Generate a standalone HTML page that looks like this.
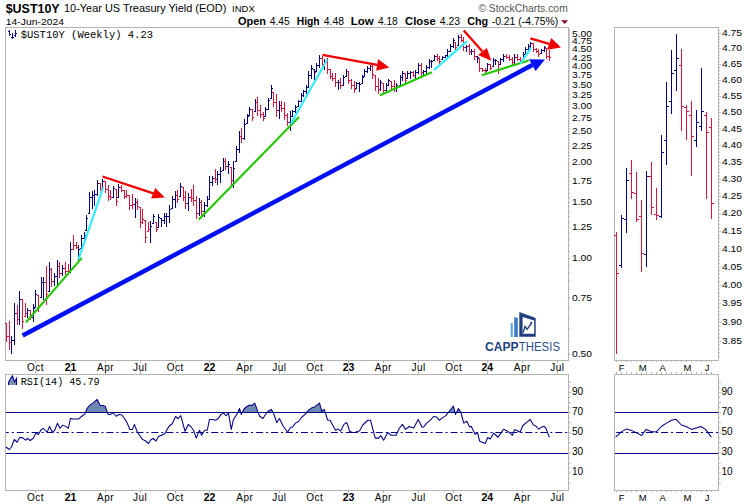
<!DOCTYPE html>
<html><head><meta charset="utf-8"><style>
html,body{margin:0;padding:0;background:#fff;}
body{width:744px;height:504px;overflow:hidden;}
svg{display:block;}
</style></head><body>
<svg width="744" height="504" viewBox="0 0 744 504">
<rect width="744" height="504" fill="#fff"/>
<text x="5.7" y="12.5" font-family='"Liberation Sans", sans-serif' font-size="13" font-weight="bold" fill="#000" text-anchor="start" textLength="54" lengthAdjust="spacingAndGlyphs" >$UST10Y</text>
<text x="64" y="11.8" font-family='"Liberation Sans", sans-serif' font-size="11" font-weight="normal" fill="#000" text-anchor="start" textLength="162.3" lengthAdjust="spacingAndGlyphs" >10-Year US Treasury Yield (EOD)</text>
<text x="232" y="11.8" font-family='"Liberation Sans", sans-serif' font-size="9" font-weight="normal" fill="#000" text-anchor="start" textLength="22.8" lengthAdjust="spacingAndGlyphs" >INDX</text>
<text x="478.5" y="11.8" font-family='"Liberation Sans", sans-serif' font-size="10" font-weight="normal" fill="#555" text-anchor="start" textLength="7.6" lengthAdjust="spacingAndGlyphs" >©</text>
<text x="488.8" y="11.8" font-family='"Liberation Sans", sans-serif' font-size="10.5" font-weight="normal" fill="#555" text-anchor="start" textLength="79" lengthAdjust="spacingAndGlyphs" >StockCharts.com</text>
<text x="5.8" y="24.5" font-family='"Liberation Sans", sans-serif' font-size="9.6" font-weight="normal" fill="#000" text-anchor="start" textLength="58.3" lengthAdjust="spacingAndGlyphs" >14-Jun-2024</text>
<text x="238" y="24.5" font-family='"Liberation Sans", sans-serif' font-size="11" font-weight="bold" fill="#000" text-anchor="start" textLength="28" lengthAdjust="spacingAndGlyphs" >Open</text>
<text x="269.8" y="24.9" font-family='"Liberation Sans", sans-serif' font-size="10" font-weight="normal" fill="#000" text-anchor="start" textLength="19.9" lengthAdjust="spacingAndGlyphs" >4.45</text>
<text x="296.7" y="24.5" font-family='"Liberation Sans", sans-serif' font-size="11" font-weight="bold" fill="#000" text-anchor="start" textLength="22.9" lengthAdjust="spacingAndGlyphs" >High</text>
<text x="323.7" y="24.9" font-family='"Liberation Sans", sans-serif' font-size="10" font-weight="normal" fill="#000" text-anchor="start" textLength="20.3" lengthAdjust="spacingAndGlyphs" >4.48</text>
<text x="350.7" y="24.5" font-family='"Liberation Sans", sans-serif' font-size="11" font-weight="bold" fill="#000" text-anchor="start" textLength="22.9" lengthAdjust="spacingAndGlyphs" >Low</text>
<text x="378" y="24.9" font-family='"Liberation Sans", sans-serif' font-size="10" font-weight="normal" fill="#000" text-anchor="start" textLength="19.7" lengthAdjust="spacingAndGlyphs" >4.18</text>
<text x="405" y="24.5" font-family='"Liberation Sans", sans-serif' font-size="11" font-weight="bold" fill="#000" text-anchor="start" textLength="30.7" lengthAdjust="spacingAndGlyphs" >Close</text>
<text x="439.8" y="24.9" font-family='"Liberation Sans", sans-serif' font-size="10" font-weight="normal" fill="#000" text-anchor="start" textLength="20.2" lengthAdjust="spacingAndGlyphs" >4.23</text>
<text x="467.2" y="24.5" font-family='"Liberation Sans", sans-serif' font-size="11" font-weight="bold" fill="#000" text-anchor="start" textLength="21.0" lengthAdjust="spacingAndGlyphs" >Chg</text>
<text x="491.7" y="24.9" font-family='"Liberation Sans", sans-serif' font-size="10" font-weight="normal" fill="#000" text-anchor="start" textLength="66.5" lengthAdjust="spacingAndGlyphs" >-0.21 (-4.75%)</text>
<path d="M561.2,20.2 L568.1,20.2 L564.65,24 Z" fill="#8b0a2a"/>
<rect x="5.5" y="27.5" width="563" height="333" fill="none" stroke="#b4b4b4" stroke-width="1"/>
<rect x="614.5" y="27.5" width="104" height="333" fill="none" stroke="#b4b4b4" stroke-width="1"/>
<rect x="5.5" y="374.5" width="563" height="116" fill="none" stroke="#b4b4b4" stroke-width="1"/>
<rect x="614.5" y="374.5" width="104" height="116" fill="none" stroke="#b4b4b4" stroke-width="1"/>
<path d="M568,354.3h2 M568,341.1h2 M568,329.1h2 M568,318.0h2 M568,307.7h2 M568,298.2h2 M568,289.3h2 M568,280.9h2 M568,273.0h2 M568,265.5h2 M568,258.4h2 M568,251.6h2 M568,245.2h2 M568,239.1h2 M568,233.2h2 M568,227.5h2 M568,222.1h2 M568,216.9h2 M568,211.8h2 M568,207.0h2 M568,202.3h2 M568,197.8h2 M568,193.4h2 M568,189.1h2 M568,185.0h2 M568,181.0h2 M568,177.1h2 M568,173.3h2 M568,169.6h2 M568,166.0h2 M568,162.5h2 M568,159.1h2 M568,155.8h2 M568,152.5h2 M568,149.3h2 M568,146.2h2 M568,143.2h2 M568,140.2h2 M568,137.3h2 M568,134.4h2 M568,131.6h2 M568,128.9h2 M568,126.2h2 M568,123.6h2 M568,121.0h2 M568,118.4h2 M568,116.0h2 M568,113.5h2 M568,111.1h2 M568,108.7h2 M568,106.4h2 M568,104.1h2 M568,101.9h2 M568,99.7h2 M568,97.5h2 M568,95.3h2 M568,93.2h2 M568,91.1h2 M568,89.1h2 M568,87.1h2 M568,85.1h2 M568,83.1h2 M568,81.2h2 M568,79.3h2 M568,77.4h2 M568,75.5h2 M568,73.7h2 M568,71.9h2 M568,70.1h2 M568,68.3h2 M568,66.6h2 M568,64.9h2 M568,63.2h2 M568,61.5h2 M568,59.9h2 M568,58.2h2 M568,56.6h2 M568,55.0h2 M568,53.4h2 M568,51.9h2 M568,50.3h2 M568,48.8h2 M568,47.3h2 M568,45.8h2 M568,44.3h2 M568,42.8h2 M568,41.4h2 M568,39.9h2 M568,38.5h2 M568,37.1h2 M568,35.7h2 M568,34.4h2 M568,33.0h2 M568,31.6h2 M568,30.3h2 M568,29.0h2" stroke="#b4b4b4" stroke-width="1" fill="none"/>
<text x="572" y="356.8" font-family='"Liberation Sans", sans-serif' font-size="9.8" font-weight="normal" fill="#000" text-anchor="start" textLength="20" lengthAdjust="spacingAndGlyphs" >0.50</text>
<text x="572" y="300.7" font-family='"Liberation Sans", sans-serif' font-size="9.8" font-weight="normal" fill="#000" text-anchor="start" textLength="20" lengthAdjust="spacingAndGlyphs" >0.75</text>
<text x="572" y="260.9" font-family='"Liberation Sans", sans-serif' font-size="9.8" font-weight="normal" fill="#000" text-anchor="start" textLength="20" lengthAdjust="spacingAndGlyphs" >1.00</text>
<text x="572" y="230.0" font-family='"Liberation Sans", sans-serif' font-size="9.8" font-weight="normal" fill="#000" text-anchor="start" textLength="20" lengthAdjust="spacingAndGlyphs" >1.25</text>
<text x="572" y="204.8" font-family='"Liberation Sans", sans-serif' font-size="9.8" font-weight="normal" fill="#000" text-anchor="start" textLength="20" lengthAdjust="spacingAndGlyphs" >1.50</text>
<text x="572" y="183.5" font-family='"Liberation Sans", sans-serif' font-size="9.8" font-weight="normal" fill="#000" text-anchor="start" textLength="20" lengthAdjust="spacingAndGlyphs" >1.75</text>
<text x="572" y="165.0" font-family='"Liberation Sans", sans-serif' font-size="9.8" font-weight="normal" fill="#000" text-anchor="start" textLength="20" lengthAdjust="spacingAndGlyphs" >2.00</text>
<text x="572" y="148.7" font-family='"Liberation Sans", sans-serif' font-size="9.8" font-weight="normal" fill="#000" text-anchor="start" textLength="20" lengthAdjust="spacingAndGlyphs" >2.25</text>
<text x="572" y="134.1" font-family='"Liberation Sans", sans-serif' font-size="9.8" font-weight="normal" fill="#000" text-anchor="start" textLength="20" lengthAdjust="spacingAndGlyphs" >2.50</text>
<text x="572" y="120.9" font-family='"Liberation Sans", sans-serif' font-size="9.8" font-weight="normal" fill="#000" text-anchor="start" textLength="20" lengthAdjust="spacingAndGlyphs" >2.75</text>
<text x="572" y="108.9" font-family='"Liberation Sans", sans-serif' font-size="9.8" font-weight="normal" fill="#000" text-anchor="start" textLength="20" lengthAdjust="spacingAndGlyphs" >3.00</text>
<text x="572" y="97.8" font-family='"Liberation Sans", sans-serif' font-size="9.8" font-weight="normal" fill="#000" text-anchor="start" textLength="20" lengthAdjust="spacingAndGlyphs" >3.25</text>
<text x="572" y="87.6" font-family='"Liberation Sans", sans-serif' font-size="9.8" font-weight="normal" fill="#000" text-anchor="start" textLength="20" lengthAdjust="spacingAndGlyphs" >3.50</text>
<text x="572" y="78.0" font-family='"Liberation Sans", sans-serif' font-size="9.8" font-weight="normal" fill="#000" text-anchor="start" textLength="20" lengthAdjust="spacingAndGlyphs" >3.75</text>
<text x="572" y="69.1" font-family='"Liberation Sans", sans-serif' font-size="9.8" font-weight="normal" fill="#000" text-anchor="start" textLength="20" lengthAdjust="spacingAndGlyphs" >4.00</text>
<text x="572" y="60.7" font-family='"Liberation Sans", sans-serif' font-size="9.8" font-weight="normal" fill="#000" text-anchor="start" textLength="20" lengthAdjust="spacingAndGlyphs" >4.25</text>
<text x="572" y="52.3" font-family='"Liberation Sans", sans-serif' font-size="9.8" font-weight="normal" fill="#000" text-anchor="start" textLength="20" lengthAdjust="spacingAndGlyphs" >4.50</text>
<text x="572" y="44.3" font-family='"Liberation Sans", sans-serif' font-size="9.8" font-weight="normal" fill="#000" text-anchor="start" textLength="20" lengthAdjust="spacingAndGlyphs" >4.75</text>
<text x="572" y="37.2" font-family='"Liberation Sans", sans-serif' font-size="9.8" font-weight="normal" fill="#000" text-anchor="start" textLength="20" lengthAdjust="spacingAndGlyphs" >5.00</text>
<path d="M718,356.6h2 M718,352.8h2 M718,349.0h2 M718,345.1h2 M718,341.3h3 M718,337.5h2 M718,333.7h2 M718,329.9h2 M718,326.2h2 M718,322.4h3 M718,318.7h2 M718,314.9h2 M718,311.2h2 M718,307.5h2 M718,303.7h3 M718,300.0h2 M718,296.3h2 M718,292.6h2 M718,289.0h2 M718,285.3h3 M718,281.6h2 M718,278.0h2 M718,274.3h2 M718,270.7h2 M718,267.1h3 M718,263.5h2 M718,259.9h2 M718,256.3h2 M718,252.7h2 M718,249.1h3 M718,245.5h2 M718,242.0h2 M718,238.4h2 M718,234.9h2 M718,231.3h3 M718,227.8h2 M718,224.3h2 M718,220.8h2 M718,217.3h2 M718,213.8h3 M718,210.3h2 M718,206.8h2 M718,203.3h2 M718,199.9h2 M718,196.4h3 M718,193.0h2 M718,189.6h2 M718,186.1h2 M718,182.7h2 M718,179.3h3 M718,175.9h2 M718,172.5h2 M718,169.1h2 M718,165.7h2 M718,162.3h3 M718,159.0h2 M718,155.6h2 M718,152.3h2 M718,148.9h2 M718,145.6h3 M718,142.3h2 M718,138.9h2 M718,135.6h2 M718,132.3h2 M718,129.0h3 M718,125.7h2 M718,122.5h2 M718,119.2h2 M718,115.9h2 M718,112.7h3 M718,109.4h2 M718,106.2h2 M718,102.9h2 M718,99.7h2 M718,96.5h3 M718,93.2h2 M718,90.0h2 M718,86.8h2 M718,83.6h2 M718,80.4h3 M718,77.3h2 M718,74.1h2 M718,70.9h2 M718,67.7h2 M718,64.6h3 M718,61.4h2 M718,58.3h2 M718,55.2h2 M718,52.0h2 M718,48.9h3 M718,45.8h2 M718,42.7h2 M718,39.6h2 M718,36.5h2 M718,33.4h3 M718,30.3h2" stroke="#b4b4b4" stroke-width="1" fill="none"/>
<text x="722" y="343.8" font-family='"Liberation Sans", sans-serif' font-size="9.8" font-weight="normal" fill="#000" text-anchor="start" textLength="20" lengthAdjust="spacingAndGlyphs" >3.85</text>
<text x="722" y="324.9" font-family='"Liberation Sans", sans-serif' font-size="9.8" font-weight="normal" fill="#000" text-anchor="start" textLength="20" lengthAdjust="spacingAndGlyphs" >3.90</text>
<text x="722" y="306.2" font-family='"Liberation Sans", sans-serif' font-size="9.8" font-weight="normal" fill="#000" text-anchor="start" textLength="20" lengthAdjust="spacingAndGlyphs" >3.95</text>
<text x="722" y="287.8" font-family='"Liberation Sans", sans-serif' font-size="9.8" font-weight="normal" fill="#000" text-anchor="start" textLength="20" lengthAdjust="spacingAndGlyphs" >4.00</text>
<text x="722" y="269.6" font-family='"Liberation Sans", sans-serif' font-size="9.8" font-weight="normal" fill="#000" text-anchor="start" textLength="20" lengthAdjust="spacingAndGlyphs" >4.05</text>
<text x="722" y="251.6" font-family='"Liberation Sans", sans-serif' font-size="9.8" font-weight="normal" fill="#000" text-anchor="start" textLength="20" lengthAdjust="spacingAndGlyphs" >4.10</text>
<text x="722" y="233.8" font-family='"Liberation Sans", sans-serif' font-size="9.8" font-weight="normal" fill="#000" text-anchor="start" textLength="20" lengthAdjust="spacingAndGlyphs" >4.15</text>
<text x="722" y="216.3" font-family='"Liberation Sans", sans-serif' font-size="9.8" font-weight="normal" fill="#000" text-anchor="start" textLength="20" lengthAdjust="spacingAndGlyphs" >4.20</text>
<text x="722" y="198.9" font-family='"Liberation Sans", sans-serif' font-size="9.8" font-weight="normal" fill="#000" text-anchor="start" textLength="20" lengthAdjust="spacingAndGlyphs" >4.25</text>
<text x="722" y="181.8" font-family='"Liberation Sans", sans-serif' font-size="9.8" font-weight="normal" fill="#000" text-anchor="start" textLength="20" lengthAdjust="spacingAndGlyphs" >4.30</text>
<text x="722" y="164.8" font-family='"Liberation Sans", sans-serif' font-size="9.8" font-weight="normal" fill="#000" text-anchor="start" textLength="20" lengthAdjust="spacingAndGlyphs" >4.35</text>
<text x="722" y="148.1" font-family='"Liberation Sans", sans-serif' font-size="9.8" font-weight="normal" fill="#000" text-anchor="start" textLength="20" lengthAdjust="spacingAndGlyphs" >4.40</text>
<text x="722" y="131.5" font-family='"Liberation Sans", sans-serif' font-size="9.8" font-weight="normal" fill="#000" text-anchor="start" textLength="20" lengthAdjust="spacingAndGlyphs" >4.45</text>
<text x="722" y="115.2" font-family='"Liberation Sans", sans-serif' font-size="9.8" font-weight="normal" fill="#000" text-anchor="start" textLength="20" lengthAdjust="spacingAndGlyphs" >4.50</text>
<text x="722" y="99.0" font-family='"Liberation Sans", sans-serif' font-size="9.8" font-weight="normal" fill="#000" text-anchor="start" textLength="20" lengthAdjust="spacingAndGlyphs" >4.55</text>
<text x="722" y="82.9" font-family='"Liberation Sans", sans-serif' font-size="9.8" font-weight="normal" fill="#000" text-anchor="start" textLength="20" lengthAdjust="spacingAndGlyphs" >4.60</text>
<text x="722" y="67.1" font-family='"Liberation Sans", sans-serif' font-size="9.8" font-weight="normal" fill="#000" text-anchor="start" textLength="20" lengthAdjust="spacingAndGlyphs" >4.65</text>
<text x="722" y="51.4" font-family='"Liberation Sans", sans-serif' font-size="9.8" font-weight="normal" fill="#000" text-anchor="start" textLength="20" lengthAdjust="spacingAndGlyphs" >4.70</text>
<text x="722" y="35.9" font-family='"Liberation Sans", sans-serif' font-size="9.8" font-weight="normal" fill="#000" text-anchor="start" textLength="20" lengthAdjust="spacingAndGlyphs" >4.75</text>
<path d="M35.5,360v3M35.5,371v3M35.5,490v3M70.5,360v3M70.5,371v3M70.5,490v3M105.5,360v3M105.5,371v3M105.5,490v3M140.5,360v3M140.5,371v3M140.5,490v3M175.5,360v3M175.5,371v3M175.5,490v3M209.5,360v3M209.5,371v3M209.5,490v3M244.5,360v3M244.5,371v3M244.5,490v3M279.5,360v3M279.5,371v3M279.5,490v3M314.5,360v3M314.5,371v3M314.5,490v3M348.5,360v3M348.5,371v3M348.5,490v3M383.5,360v3M383.5,371v3M383.5,490v3M418.5,360v3M418.5,371v3M418.5,490v3M453.5,360v3M453.5,371v3M453.5,490v3M487.5,360v3M487.5,371v3M487.5,490v3M522.5,360v3M522.5,371v3M522.5,490v3M557.5,360v3M557.5,371v3M557.5,490v3" stroke="#b4b4b4" stroke-width="1" fill="none"/>
<text x="35.5" y="371" font-family='"Liberation Sans", sans-serif' font-size="10" font-weight="normal" fill="#000" text-anchor="middle" letter-spacing="0.5">Oct</text>
<text x="35.5" y="501" font-family='"Liberation Sans", sans-serif' font-size="10" font-weight="normal" fill="#000" text-anchor="middle" letter-spacing="0.5">Oct</text>
<text x="70.5" y="371" font-family='"Liberation Sans", sans-serif' font-size="10.5" font-weight="bold" fill="#000" text-anchor="middle" >21</text>
<text x="70.5" y="501" font-family='"Liberation Sans", sans-serif' font-size="10.5" font-weight="bold" fill="#000" text-anchor="middle" >21</text>
<text x="105.5" y="371" font-family='"Liberation Sans", sans-serif' font-size="10" font-weight="normal" fill="#000" text-anchor="middle" letter-spacing="0.5">Apr</text>
<text x="105.5" y="501" font-family='"Liberation Sans", sans-serif' font-size="10" font-weight="normal" fill="#000" text-anchor="middle" letter-spacing="0.5">Apr</text>
<text x="140.2" y="371" font-family='"Liberation Sans", sans-serif' font-size="10" font-weight="normal" fill="#000" text-anchor="middle" letter-spacing="0.5">Jul</text>
<text x="140.2" y="501" font-family='"Liberation Sans", sans-serif' font-size="10" font-weight="normal" fill="#000" text-anchor="middle" letter-spacing="0.5">Jul</text>
<text x="175.3" y="371" font-family='"Liberation Sans", sans-serif' font-size="10" font-weight="normal" fill="#000" text-anchor="middle" letter-spacing="0.5">Oct</text>
<text x="175.3" y="501" font-family='"Liberation Sans", sans-serif' font-size="10" font-weight="normal" fill="#000" text-anchor="middle" letter-spacing="0.5">Oct</text>
<text x="209.5" y="371" font-family='"Liberation Sans", sans-serif' font-size="10.5" font-weight="bold" fill="#000" text-anchor="middle" >22</text>
<text x="209.5" y="501" font-family='"Liberation Sans", sans-serif' font-size="10.5" font-weight="bold" fill="#000" text-anchor="middle" >22</text>
<text x="244.8" y="371" font-family='"Liberation Sans", sans-serif' font-size="10" font-weight="normal" fill="#000" text-anchor="middle" letter-spacing="0.5">Apr</text>
<text x="244.8" y="501" font-family='"Liberation Sans", sans-serif' font-size="10" font-weight="normal" fill="#000" text-anchor="middle" letter-spacing="0.5">Apr</text>
<text x="279.3" y="371" font-family='"Liberation Sans", sans-serif' font-size="10" font-weight="normal" fill="#000" text-anchor="middle" letter-spacing="0.5">Jul</text>
<text x="279.3" y="501" font-family='"Liberation Sans", sans-serif' font-size="10" font-weight="normal" fill="#000" text-anchor="middle" letter-spacing="0.5">Jul</text>
<text x="314.7" y="371" font-family='"Liberation Sans", sans-serif' font-size="10" font-weight="normal" fill="#000" text-anchor="middle" letter-spacing="0.5">Oct</text>
<text x="314.7" y="501" font-family='"Liberation Sans", sans-serif' font-size="10" font-weight="normal" fill="#000" text-anchor="middle" letter-spacing="0.5">Oct</text>
<text x="348.5" y="371" font-family='"Liberation Sans", sans-serif' font-size="10.5" font-weight="bold" fill="#000" text-anchor="middle" >23</text>
<text x="348.5" y="501" font-family='"Liberation Sans", sans-serif' font-size="10.5" font-weight="bold" fill="#000" text-anchor="middle" >23</text>
<text x="383.3" y="371" font-family='"Liberation Sans", sans-serif' font-size="10" font-weight="normal" fill="#000" text-anchor="middle" letter-spacing="0.5">Apr</text>
<text x="383.3" y="501" font-family='"Liberation Sans", sans-serif' font-size="10" font-weight="normal" fill="#000" text-anchor="middle" letter-spacing="0.5">Apr</text>
<text x="418.7" y="371" font-family='"Liberation Sans", sans-serif' font-size="10" font-weight="normal" fill="#000" text-anchor="middle" letter-spacing="0.5">Jul</text>
<text x="418.7" y="501" font-family='"Liberation Sans", sans-serif' font-size="10" font-weight="normal" fill="#000" text-anchor="middle" letter-spacing="0.5">Jul</text>
<text x="453.7" y="371" font-family='"Liberation Sans", sans-serif' font-size="10" font-weight="normal" fill="#000" text-anchor="middle" letter-spacing="0.5">Oct</text>
<text x="453.7" y="501" font-family='"Liberation Sans", sans-serif' font-size="10" font-weight="normal" fill="#000" text-anchor="middle" letter-spacing="0.5">Oct</text>
<text x="487.3" y="371" font-family='"Liberation Sans", sans-serif' font-size="10.5" font-weight="bold" fill="#000" text-anchor="middle" >24</text>
<text x="487.3" y="501" font-family='"Liberation Sans", sans-serif' font-size="10.5" font-weight="bold" fill="#000" text-anchor="middle" >24</text>
<text x="522.3" y="371" font-family='"Liberation Sans", sans-serif' font-size="10" font-weight="normal" fill="#000" text-anchor="middle" letter-spacing="0.5">Apr</text>
<text x="522.3" y="501" font-family='"Liberation Sans", sans-serif' font-size="10" font-weight="normal" fill="#000" text-anchor="middle" letter-spacing="0.5">Apr</text>
<text x="557.3" y="371" font-family='"Liberation Sans", sans-serif' font-size="10" font-weight="normal" fill="#000" text-anchor="middle" letter-spacing="0.5">Jul</text>
<text x="557.3" y="501" font-family='"Liberation Sans", sans-serif' font-size="10" font-weight="normal" fill="#000" text-anchor="middle" letter-spacing="0.5">Jul</text>
<path d="M616.5,360v2M616.5,372v2M616.5,490v2M621.5,360v2M621.5,372v2M621.5,490v2M626.5,360v2M626.5,372v2M626.5,490v2M631.5,360v2M631.5,372v2M631.5,490v2M636.5,360v2M636.5,372v2M636.5,490v2M641.5,360v2M641.5,372v2M641.5,490v2M646.5,360v2M646.5,372v2M646.5,490v2M651.5,360v2M651.5,372v2M651.5,490v2M656.5,360v2M656.5,372v2M656.5,490v2M661.5,360v2M661.5,372v2M661.5,490v2M666.5,360v2M666.5,372v2M666.5,490v2M671.5,360v2M671.5,372v2M671.5,490v2M676.5,360v2M676.5,372v2M676.5,490v2M681.5,360v2M681.5,372v2M681.5,490v2M686.5,360v2M686.5,372v2M686.5,490v2M691.5,360v2M691.5,372v2M691.5,490v2M696.5,360v2M696.5,372v2M696.5,490v2M701.5,360v2M701.5,372v2M701.5,490v2M706.5,360v2M706.5,372v2M706.5,490v2M711.5,360v2M711.5,372v2M711.5,490v2" stroke="#b4b4b4" stroke-width="1" fill="none"/>
<text x="621.7" y="370.8" font-family='"Liberation Sans", sans-serif' font-size="9.5" font-weight="normal" fill="#000" text-anchor="middle" >F</text>
<text x="621.7" y="501" font-family='"Liberation Sans", sans-serif' font-size="9.5" font-weight="normal" fill="#000" text-anchor="middle" >F</text>
<text x="642.6" y="370.8" font-family='"Liberation Sans", sans-serif' font-size="9.5" font-weight="normal" fill="#000" text-anchor="middle" >M</text>
<text x="642.6" y="501" font-family='"Liberation Sans", sans-serif' font-size="9.5" font-weight="normal" fill="#000" text-anchor="middle" >M</text>
<text x="662.6" y="370.8" font-family='"Liberation Sans", sans-serif' font-size="9.5" font-weight="normal" fill="#000" text-anchor="middle" >A</text>
<text x="662.6" y="501" font-family='"Liberation Sans", sans-serif' font-size="9.5" font-weight="normal" fill="#000" text-anchor="middle" >A</text>
<text x="687.5" y="370.8" font-family='"Liberation Sans", sans-serif' font-size="9.5" font-weight="normal" fill="#000" text-anchor="middle" >M</text>
<text x="687.5" y="501" font-family='"Liberation Sans", sans-serif' font-size="9.5" font-weight="normal" fill="#000" text-anchor="middle" >M</text>
<text x="707" y="370.8" font-family='"Liberation Sans", sans-serif' font-size="9.5" font-weight="normal" fill="#000" text-anchor="middle" >J</text>
<text x="707" y="501" font-family='"Liberation Sans", sans-serif' font-size="9.5" font-weight="normal" fill="#000" text-anchor="middle" >J</text>
<path d="M9,30h1v6h-1zM8,31h1v1h-1zM10,34h1v1h-1zM12,33h1v6h-1zM11,37h1v1h-1zM13,37h1v1h-1zM15,30h1v7h-1zM16,33h1v1h-1zM14,35h1v1h-1z" fill="#10109a" shape-rendering="crispEdges"/>
<text x="20.7" y="37.8" font-family='"Liberation Mono", monospace' font-size="10.5" font-weight="normal" fill="#000" text-anchor="start" textLength="132.3" lengthAdjust="spacingAndGlyphs" >$UST10Y (Weekly) 4.23</text>
<path d="M8.5,385 L8.5,382.5 L10.5,378.5 L12.5,376 L14.5,382 L16.5,378.5 L16.5,385 Z" fill="#7d92b0"/><path d="M8.5,385 L8.5,382.5 L10.5,378.5 L12.5,376 L14.5,382 L16.5,378.5 L16.5,385" fill="none" stroke="#000090" stroke-width="1.1"/>
<text x="20.7" y="384.8" font-family='"Liberation Mono", monospace' font-size="10.5" font-weight="normal" fill="#000" text-anchor="start" textLength="79" lengthAdjust="spacingAndGlyphs" >RSI(14) 45.79</text>
<clipPath id="c5"><rect x="5" y="375" width="563" height="37.5"/></clipPath>
<polygon points="5.9,412.5 5.90,447.00 9.25,449.50 11.50,447.00 14.25,439.50 17.10,442.25 19.60,437.60 22.50,437.60 25.50,440.10 27.50,438.50 30.25,440.50 33.00,438.50 35.90,433.25 38.40,434.50 41.25,429.50 43.40,428.50 47.10,432.25 49.60,426.40 52.10,432.00 54.60,430.50 57.50,423.25 60.00,428.25 62.75,425.10 65.50,426.40 68.40,428.25 70.50,418.25 72.50,418.90 78.75,418.90 82.10,416.00 85.00,413.90 87.10,408.25 90.00,405.10 93.40,402.60 97.25,399.40 100.00,405.25 103.10,405.60 105.25,406.50 108.10,414.40 110.60,414.40 113.10,412.75 116.25,416.25 119.00,414.40 121.90,415.00 123.75,417.50 126.90,422.25 129.75,429.40 132.50,429.40 134.40,424.40 137.50,432.50 142.50,439.40 145.60,441.00 148.50,443.50 150.60,440.00 153.10,438.50 156.00,441.00 158.50,436.50 161.90,435.00 164.75,433.75 169.00,426.25 172.25,423.75 175.60,416.50 178.10,418.75 180.75,415.60 185.00,431.25 188.25,424.40 190.75,426.50 193.50,430.25 196.25,438.10 199.50,430.25 201.60,435.25 204.50,430.25 207.25,430.25 209.50,419.40 212.90,419.40 215.75,420.25 218.50,418.10 221.00,414.40 223.50,413.10 226.00,415.60 228.50,413.10 231.25,429.40 233.50,419.40 237.25,413.75 239.50,408.50 241.25,414.40 244.10,408.75 247.25,406.25 249.75,405.00 251.60,405.60 254.75,403.10 257.90,411.90 259.75,416.25 262.90,418.50 266.00,413.75 268.25,411.00 271.40,409.40 273.50,413.10 276.75,422.50 279.50,418.50 283.25,426.25 287.60,432.25 290.50,427.50 292.60,426.90 295.50,423.10 298.50,421.50 301.75,417.25 305.10,414.40 308.00,410.60 311.40,408.10 314.50,406.90 319.50,403.10 321.75,411.25 324.25,409.40 327.60,420.00 330.10,420.25 335.50,430.25 338.25,429.00 340.50,431.25 343.90,424.40 346.75,422.50 348.50,427.50 349.50,431.25 352.40,432.50 355.50,432.50 357.00,431.50 359.50,431.00 362.75,425.00 367.75,420.25 370.50,420.25 375.25,438.10 378.60,438.10 380.75,435.60 383.60,440.25 387.75,432.50 391.10,435.25 396.10,435.25 399.00,428.75 402.40,424.40 405.50,429.40 409.25,426.50 413.60,428.10 418.25,419.40 422.00,427.25 423.60,426.90 426.75,423.10 429.90,420.60 433.60,416.50 436.50,416.90 439.25,420.25 442.10,418.10 445.90,415.60 449.00,411.50 453.40,406.00 455.50,414.40 458.40,408.50 460.90,412.25 463.75,423.10 466.75,421.25 469.60,426.90 471.25,426.25 475.00,434.40 477.50,432.50 479.60,441.00 482.10,442.25 485.25,443.50 487.75,437.50 490.25,439.00 493.75,433.10 498.00,437.25 501.40,432.40 503.60,429.30 506.60,430.75 509.40,432.60 512.40,435.30 514.60,429.60 517.40,430.75 520.20,432.20 522.60,426.00 526.50,422.30 530.30,419.50 533.40,424.90 536.50,426.50 538.60,429.30 541.40,427.20 544.00,426.20 546.10,428.40 547.50,432.60 549.40,437.30 549.4,412.5" fill="#7088b0" clip-path="url(#c5)"/>
<path d="M6,412.5H568M6,453.5H568" stroke="#000088" stroke-width="1.1" fill="none"/>
<path d="M6,432.5H568" stroke="#000088" stroke-width="1.15" fill="none" stroke-dasharray="7,3,2,2.96" stroke-dashoffset="4.26"/>
<polyline points="5.90,447.00 9.25,449.50 11.50,447.00 14.25,439.50 17.10,442.25 19.60,437.60 22.50,437.60 25.50,440.10 27.50,438.50 30.25,440.50 33.00,438.50 35.90,433.25 38.40,434.50 41.25,429.50 43.40,428.50 47.10,432.25 49.60,426.40 52.10,432.00 54.60,430.50 57.50,423.25 60.00,428.25 62.75,425.10 65.50,426.40 68.40,428.25 70.50,418.25 72.50,418.90 78.75,418.90 82.10,416.00 85.00,413.90 87.10,408.25 90.00,405.10 93.40,402.60 97.25,399.40 100.00,405.25 103.10,405.60 105.25,406.50 108.10,414.40 110.60,414.40 113.10,412.75 116.25,416.25 119.00,414.40 121.90,415.00 123.75,417.50 126.90,422.25 129.75,429.40 132.50,429.40 134.40,424.40 137.50,432.50 142.50,439.40 145.60,441.00 148.50,443.50 150.60,440.00 153.10,438.50 156.00,441.00 158.50,436.50 161.90,435.00 164.75,433.75 169.00,426.25 172.25,423.75 175.60,416.50 178.10,418.75 180.75,415.60 185.00,431.25 188.25,424.40 190.75,426.50 193.50,430.25 196.25,438.10 199.50,430.25 201.60,435.25 204.50,430.25 207.25,430.25 209.50,419.40 212.90,419.40 215.75,420.25 218.50,418.10 221.00,414.40 223.50,413.10 226.00,415.60 228.50,413.10 231.25,429.40 233.50,419.40 237.25,413.75 239.50,408.50 241.25,414.40 244.10,408.75 247.25,406.25 249.75,405.00 251.60,405.60 254.75,403.10 257.90,411.90 259.75,416.25 262.90,418.50 266.00,413.75 268.25,411.00 271.40,409.40 273.50,413.10 276.75,422.50 279.50,418.50 283.25,426.25 287.60,432.25 290.50,427.50 292.60,426.90 295.50,423.10 298.50,421.50 301.75,417.25 305.10,414.40 308.00,410.60 311.40,408.10 314.50,406.90 319.50,403.10 321.75,411.25 324.25,409.40 327.60,420.00 330.10,420.25 335.50,430.25 338.25,429.00 340.50,431.25 343.90,424.40 346.75,422.50 348.50,427.50 349.50,431.25 352.40,432.50 355.50,432.50 357.00,431.50 359.50,431.00 362.75,425.00 367.75,420.25 370.50,420.25 375.25,438.10 378.60,438.10 380.75,435.60 383.60,440.25 387.75,432.50 391.10,435.25 396.10,435.25 399.00,428.75 402.40,424.40 405.50,429.40 409.25,426.50 413.60,428.10 418.25,419.40 422.00,427.25 423.60,426.90 426.75,423.10 429.90,420.60 433.60,416.50 436.50,416.90 439.25,420.25 442.10,418.10 445.90,415.60 449.00,411.50 453.40,406.00 455.50,414.40 458.40,408.50 460.90,412.25 463.75,423.10 466.75,421.25 469.60,426.90 471.25,426.25 475.00,434.40 477.50,432.50 479.60,441.00 482.10,442.25 485.25,443.50 487.75,437.50 490.25,439.00 493.75,433.10 498.00,437.25 501.40,432.40 503.60,429.30 506.60,430.75 509.40,432.60 512.40,435.30 514.60,429.60 517.40,430.75 520.20,432.20 522.60,426.00 526.50,422.30 530.30,419.50 533.40,424.90 536.50,426.50 538.60,429.30 541.40,427.20 544.00,426.20 546.10,428.40 547.50,432.60 549.40,437.30" fill="none" stroke="#000088" stroke-width="1.05" stroke-linejoin="round"/>
<path d="M568,483.2h3M568,478.2h2M568,473.1h3M568,468.1h2M568,463.0h3M568,458.0h2M568,453.0h3M568,447.9h2M568,442.9h3M568,437.8h2M568,432.8h3M568,427.8h2M568,422.7h3M568,417.7h2M568,412.6h3M568,407.6h2M568,402.6h3M568,397.5h2M568,392.5h3M568,387.4h2M568,382.4h3" stroke="#b4b4b4" stroke-width="1" fill="none"/>
<text x="572" y="394.7" font-family='"Liberation Sans", sans-serif' font-size="10.3" font-weight="normal" fill="#000" text-anchor="start" textLength="11.2" lengthAdjust="spacingAndGlyphs" >90</text>
<text x="572" y="414.8" font-family='"Liberation Sans", sans-serif' font-size="10.3" font-weight="normal" fill="#000" text-anchor="start" textLength="11.2" lengthAdjust="spacingAndGlyphs" >70</text>
<text x="572" y="435.0" font-family='"Liberation Sans", sans-serif' font-size="10.3" font-weight="normal" fill="#000" text-anchor="start" textLength="11.2" lengthAdjust="spacingAndGlyphs" >50</text>
<text x="572" y="455.2" font-family='"Liberation Sans", sans-serif' font-size="10.3" font-weight="normal" fill="#000" text-anchor="start" textLength="11.2" lengthAdjust="spacingAndGlyphs" >30</text>
<text x="572" y="475.3" font-family='"Liberation Sans", sans-serif' font-size="10.3" font-weight="normal" fill="#000" text-anchor="start" textLength="11.2" lengthAdjust="spacingAndGlyphs" >10</text>
<clipPath id="c614"><rect x="614" y="375" width="104" height="37.5"/></clipPath>
<polygon points="615.6,412.5 615.60,437.20 621.40,431.90 626.50,428.90 631.60,430.40 636.00,432.60 641.75,435.50 646.10,429.40 651.20,431.40 656.30,431.90 661.30,426.50 666.40,423.10 671.50,420.20 675.90,419.20 681.40,425.00 686.00,426.50 691.50,429.40 696.20,427.90 700.80,426.50 705.60,429.40 711.40,437.20 711.4,412.5" fill="#7088b0" clip-path="url(#c614)"/>
<path d="M615,412.5H718M615,453.5H718" stroke="#000088" stroke-width="1.1" fill="none"/>
<path d="M615,432.5H718" stroke="#000088" stroke-width="1.15" fill="none" stroke-dasharray="7,3,2,2.96" stroke-dashoffset="13.76"/>
<polyline points="615.60,437.20 621.40,431.90 626.50,428.90 631.60,430.40 636.00,432.60 641.75,435.50 646.10,429.40 651.20,431.40 656.30,431.90 661.30,426.50 666.40,423.10 671.50,420.20 675.90,419.20 681.40,425.00 686.00,426.50 691.50,429.40 696.20,427.90 700.80,426.50 705.60,429.40 711.40,437.20" fill="none" stroke="#000088" stroke-width="1.05" stroke-linejoin="round"/>
<path d="M718,483.2h3M718,478.2h2M718,473.1h3M718,468.1h2M718,463.0h3M718,458.0h2M718,453.0h3M718,447.9h2M718,442.9h3M718,437.8h2M718,432.8h3M718,427.8h2M718,422.7h3M718,417.7h2M718,412.6h3M718,407.6h2M718,402.6h3M718,397.5h2M718,392.5h3M718,387.4h2M718,382.4h3" stroke="#b4b4b4" stroke-width="1" fill="none"/>
<text x="721.5" y="394.7" font-family='"Liberation Sans", sans-serif' font-size="10.3" font-weight="normal" fill="#000" text-anchor="start" textLength="11.2" lengthAdjust="spacingAndGlyphs" >90</text>
<text x="721.5" y="414.8" font-family='"Liberation Sans", sans-serif' font-size="10.3" font-weight="normal" fill="#000" text-anchor="start" textLength="11.2" lengthAdjust="spacingAndGlyphs" >70</text>
<text x="721.5" y="435.0" font-family='"Liberation Sans", sans-serif' font-size="10.3" font-weight="normal" fill="#000" text-anchor="start" textLength="11.2" lengthAdjust="spacingAndGlyphs" >50</text>
<text x="721.5" y="455.2" font-family='"Liberation Sans", sans-serif' font-size="10.3" font-weight="normal" fill="#000" text-anchor="start" textLength="11.2" lengthAdjust="spacingAndGlyphs" >30</text>
<text x="721.5" y="475.3" font-family='"Liberation Sans", sans-serif' font-size="10.3" font-weight="normal" fill="#000" text-anchor="start" textLength="11.2" lengthAdjust="spacingAndGlyphs" >10</text>
<path d="M11,336h1v18h-1zM10,342h1v1h-1zM12,340h1v1h-1zM14,303h1v42h-1zM13,340h1v1h-1zM15,313h1v1h-1zM19,291h1v34h-1zM18,319h1v1h-1zM20,299h1v1h-1zM27,308h1v10h-1zM26,313h1v1h-1zM28,310h1v1h-1zM33,304h1v18h-1zM32,317h1v1h-1zM34,308h1v1h-1zM35,290h1v18h-1zM34,307h1v1h-1zM36,294h1v1h-1zM41,277h1v21h-1zM40,297h1v1h-1zM42,282h1v1h-1zM43,277h1v23h-1zM42,282h1v1h-1zM44,282h1v1h-1zM49,262h1v30h-1zM48,291h1v1h-1zM50,269h1v1h-1zM54,273h1v13h-1zM53,281h1v1h-1zM55,276h1v1h-1zM57,260h1v25h-1zM56,276h1v1h-1zM58,266h1v1h-1zM62,265h1v11h-1zM61,273h1v1h-1zM63,268h1v1h-1zM70,242h1v31h-1zM69,270h1v1h-1zM71,249h1v1h-1zM78,245h1v15h-1zM77,247h1v1h-1zM79,249h1v1h-1zM81,235h1v14h-1zM80,248h1v1h-1zM82,238h1v1h-1zM84,232h1v11h-1zM83,238h1v1h-1zM85,235h1v1h-1zM86,215h1v16h-1zM85,230h1v1h-1zM87,218h1v1h-1zM89,192h1v22h-1zM88,213h1v1h-1zM90,197h1v1h-1zM92,191h1v18h-1zM91,197h1v1h-1zM93,195h1v1h-1zM94,190h1v16h-1zM93,195h1v1h-1zM95,194h1v1h-1zM97,180h1v16h-1zM96,194h1v1h-1zM98,183h1v1h-1zM102,179h1v11h-1zM101,188h1v1h-1zM103,181h1v1h-1zM113,186h1v12h-1zM112,197h1v1h-1zM114,188h1v1h-1zM118,184h1v14h-1zM117,197h1v1h-1zM119,187h1v1h-1zM135,198h1v20h-1zM134,204h1v1h-1zM136,202h1v1h-1zM150,221h1v22h-1zM149,229h1v1h-1zM151,226h1v1h-1zM153,214h1v10h-1zM152,223h1v1h-1zM154,216h1v1h-1zM158,214h1v14h-1zM157,227h1v1h-1zM159,217h1v1h-1zM161,218h1v9h-1zM160,218h1v1h-1zM162,220h1v1h-1zM164,213h1v11h-1zM163,220h1v1h-1zM165,216h1v1h-1zM166,213h1v14h-1zM165,216h1v1h-1zM167,216h1v1h-1zM169,205h1v18h-1zM168,216h1v1h-1zM170,209h1v1h-1zM172,196h1v13h-1zM171,208h1v1h-1zM173,199h1v1h-1zM175,191h1v17h-1zM174,199h1v1h-1zM176,195h1v1h-1zM180,183h1v14h-1zM179,196h1v1h-1zM181,186h1v1h-1zM188,193h1v18h-1zM187,203h1v1h-1zM189,197h1v1h-1zM199,198h1v18h-1zM198,213h1v1h-1zM200,202h1v1h-1zM204,202h1v15h-1zM203,211h1v1h-1zM205,205h1v1h-1zM207,196h1v11h-1zM206,205h1v1h-1zM208,199h1v1h-1zM209,176h1v24h-1zM208,199h1v1h-1zM210,182h1v1h-1zM212,176h1v10h-1zM211,182h1v1h-1zM213,178h1v1h-1zM217,171h1v14h-1zM216,179h1v1h-1zM218,174h1v1h-1zM220,167h1v16h-1zM219,174h1v1h-1zM221,171h1v1h-1zM223,158h1v13h-1zM222,170h1v1h-1zM224,161h1v1h-1zM228,161h1v13h-1zM227,166h1v1h-1zM229,164h1v1h-1zM233,161h1v27h-1zM232,180h1v1h-1zM234,168h1v1h-1zM236,146h1v16h-1zM235,161h1v1h-1zM237,149h1v1h-1zM239,131h1v22h-1zM238,149h1v1h-1zM240,136h1v1h-1zM244,119h1v21h-1zM243,138h1v1h-1zM245,124h1v1h-1zM247,114h1v10h-1zM246,123h1v1h-1zM248,116h1v1h-1zM249,107h1v9h-1zM248,115h1v1h-1zM250,109h1v1h-1zM255,99h1v13h-1zM254,111h1v1h-1zM256,102h1v1h-1zM265,107h1v10h-1zM264,116h1v1h-1zM266,109h1v1h-1zM268,98h1v12h-1zM267,109h1v1h-1zM269,100h1v1h-1zM271,85h1v14h-1zM270,98h1v1h-1zM272,88h1v1h-1zM279,101h1v18h-1zM278,110h1v1h-1zM280,105h1v1h-1zM290,111h1v20h-1zM289,122h1v1h-1zM291,116h1v1h-1zM292,110h1v7h-1zM291,116h1v1h-1zM293,111h1v1h-1zM295,105h1v8h-1zM294,111h1v1h-1zM296,107h1v1h-1zM298,100h1v7h-1zM297,106h1v1h-1zM299,101h1v1h-1zM301,93h1v9h-1zM300,101h1v1h-1zM302,95h1v1h-1zM303,90h1v7h-1zM302,95h1v1h-1zM304,91h1v1h-1zM306,85h1v9h-1zM305,91h1v1h-1zM307,87h1v1h-1zM308,71h1v17h-1zM307,87h1v1h-1zM309,75h1v1h-1zM311,65h1v14h-1zM310,75h1v1h-1zM312,68h1v1h-1zM314,69h1v13h-1zM313,69h1v1h-1zM315,72h1v1h-1zM316,63h1v9h-1zM315,71h1v1h-1zM317,65h1v1h-1zM319,55h1v13h-1zM318,65h1v1h-1zM320,58h1v1h-1zM324,59h1v11h-1zM323,64h1v1h-1zM325,61h1v1h-1zM338,80h1v10h-1zM337,82h1v1h-1zM339,82h1v1h-1zM343,75h1v11h-1zM342,85h1v1h-1zM344,77h1v1h-1zM346,69h1v8h-1zM345,76h1v1h-1zM347,71h1v1h-1zM356,82h1v7h-1zM355,88h1v1h-1zM357,83h1v1h-1zM359,82h1v10h-1zM358,83h1v1h-1zM360,84h1v1h-1zM362,75h1v9h-1zM361,83h1v1h-1zM363,77h1v1h-1zM364,69h1v8h-1zM363,76h1v1h-1zM365,71h1v1h-1zM367,66h1v7h-1zM366,71h1v1h-1zM368,68h1v1h-1zM370,65h1v6h-1zM369,68h1v1h-1zM371,66h1v1h-1zM380,80h1v11h-1zM379,89h1v1h-1zM381,82h1v1h-1zM386,83h1v9h-1zM385,90h1v1h-1zM387,85h1v1h-1zM388,79h1v7h-1zM387,85h1v1h-1zM389,80h1v1h-1zM396,83h1v9h-1zM395,88h1v1h-1zM397,85h1v1h-1zM400,75h1v11h-1zM399,85h1v1h-1zM401,77h1v1h-1zM402,71h1v10h-1zM401,77h1v1h-1zM403,73h1v1h-1zM407,71h1v8h-1zM406,78h1v1h-1zM408,73h1v1h-1zM410,71h1v8h-1zM409,73h1v1h-1zM411,72h1v1h-1zM415,70h1v9h-1zM414,75h1v1h-1zM416,72h1v1h-1zM418,63h1v11h-1zM417,72h1v1h-1zM419,65h1v1h-1zM423,70h1v5h-1zM422,72h1v1h-1zM424,71h1v1h-1zM426,65h1v9h-1zM425,71h1v1h-1zM427,67h1v1h-1zM429,59h1v10h-1zM428,67h1v1h-1zM430,61h1v1h-1zM431,60h1v8h-1zM430,61h1v1h-1zM432,61h1v1h-1zM434,55h1v6h-1zM433,60h1v1h-1zM435,56h1v1h-1zM442,56h1v4h-1zM441,59h1v1h-1zM443,57h1v1h-1zM445,55h1v3h-1zM444,57h1v1h-1zM446,55h1v1h-1zM447,49h1v8h-1zM446,55h1v1h-1zM448,51h1v1h-1zM450,44h1v8h-1zM449,51h1v1h-1zM451,46h1v1h-1zM453,38h1v10h-1zM452,46h1v1h-1zM454,40h1v1h-1zM458,35h1v11h-1zM457,45h1v1h-1zM459,37h1v1h-1zM466,45h1v7h-1zM465,47h1v1h-1zM467,46h1v1h-1zM471,49h1v6h-1zM470,51h1v1h-1zM472,51h1v1h-1zM477,56h1v7h-1zM476,56h1v1h-1zM478,57h1v1h-1zM487,63h1v8h-1zM486,70h1v1h-1zM488,64h1v1h-1zM493,58h1v9h-1zM492,66h1v1h-1zM494,60h1v1h-1zM495,59h1v6h-1zM494,60h1v1h-1zM496,60h1v1h-1zM500,58h1v7h-1zM499,64h1v1h-1zM501,59h1v1h-1zM503,54h1v8h-1zM502,59h1v1h-1zM504,56h1v1h-1zM514,54h1v10h-1zM513,62h1v1h-1zM515,57h1v1h-1zM523,52h1v8h-1zM522,59h1v1h-1zM524,54h1v1h-1zM525,47h1v8h-1zM524,54h1v1h-1zM526,49h1v1h-1zM528,44h1v9h-1zM527,49h1v1h-1zM529,46h1v1h-1zM530,42h1v7h-1zM529,46h1v1h-1zM531,43h1v1h-1zM541,49h1v5h-1zM540,53h1v1h-1zM542,50h1v1h-1zM544,46h1v6h-1zM543,50h1v1h-1zM545,47h1v1h-1z" fill="#000080" shape-rendering="crispEdges"/>
<path d="M6,323h1v19h-1zM5,323h1v1h-1zM7,336h1v1h-1zM9,321h1v29h-1zM8,336h1v1h-1zM10,342h1v1h-1zM17,305h1v20h-1zM16,313h1v1h-1zM18,319h1v1h-1zM22,299h1v30h-1zM21,299h1v1h-1zM23,321h1v1h-1zM25,303h1v14h-1zM24,316h1v1h-1zM26,313h1v1h-1zM30,310h1v10h-1zM29,310h1v1h-1zM31,317h1v1h-1zM38,295h1v17h-1zM37,295h1v1h-1zM39,307h1v1h-1zM46,266h1v39h-1zM45,282h1v1h-1zM47,294h1v1h-1zM51,268h1v19h-1zM50,269h1v1h-1zM52,281h1v1h-1zM59,262h1v16h-1zM58,266h1v1h-1zM60,273h1v1h-1zM65,262h1v13h-1zM64,268h1v1h-1zM66,271h1v1h-1zM68,264h1v9h-1zM67,271h1v1h-1zM69,270h1v1h-1zM73,235h1v15h-1zM72,249h1v1h-1zM74,245h1v1h-1zM76,242h1v7h-1zM75,245h1v1h-1zM77,247h1v1h-1zM100,183h1v8h-1zM99,183h1v1h-1zM101,188h1v1h-1zM105,181h1v12h-1zM104,181h1v1h-1zM106,189h1v1h-1zM108,185h1v16h-1zM107,189h1v1h-1zM109,196h1v1h-1zM110,190h1v10h-1zM109,196h1v1h-1zM111,197h1v1h-1zM116,189h1v17h-1zM115,189h1v1h-1zM117,201h1v1h-1zM121,185h1v7h-1zM120,187h1v1h-1zM122,190h1v1h-1zM124,190h1v9h-1zM123,190h1v1h-1zM125,196h1v1h-1zM126,190h1v8h-1zM125,196h1v1h-1zM127,195h1v1h-1zM129,195h1v15h-1zM128,195h1v1h-1zM130,205h1v1h-1zM132,194h1v15h-1zM131,205h1v1h-1zM133,204h1v1h-1zM137,199h1v11h-1zM136,202h1v1h-1zM138,206h1v1h-1zM140,207h1v21h-1zM139,207h1v1h-1zM141,222h1v1h-1zM142,209h1v15h-1zM141,222h1v1h-1zM143,219h1v1h-1zM145,220h1v23h-1zM144,220h1v1h-1zM146,237h1v1h-1zM148,222h1v10h-1zM147,231h1v1h-1zM149,229h1v1h-1zM156,222h1v10h-1zM155,222h1v1h-1zM157,229h1v1h-1zM177,190h1v13h-1zM176,195h1v1h-1zM178,199h1v1h-1zM183,187h1v14h-1zM182,187h1v1h-1zM184,197h1v1h-1zM185,191h1v18h-1zM184,197h1v1h-1zM186,203h1v1h-1zM191,189h1v13h-1zM190,197h1v1h-1zM192,198h1v1h-1zM193,185h1v21h-1zM192,198h1v1h-1zM194,200h1v1h-1zM196,196h1v23h-1zM195,200h1v1h-1zM197,213h1v1h-1zM201,200h1v16h-1zM200,202h1v1h-1zM202,211h1v1h-1zM215,169h1v14h-1zM214,178h1v1h-1zM216,179h1v1h-1zM225,158h1v12h-1zM224,161h1v1h-1zM226,166h1v1h-1zM231,167h1v18h-1zM230,167h1v1h-1zM232,180h1v1h-1zM241,128h1v15h-1zM240,136h1v1h-1zM242,138h1v1h-1zM252,109h1v12h-1zM251,109h1v1h-1zM253,117h1v1h-1zM257,97h1v19h-1zM256,102h1v1h-1zM258,110h1v1h-1zM260,105h1v13h-1zM259,110h1v1h-1zM261,114h1v1h-1zM263,112h1v9h-1zM262,114h1v1h-1zM264,118h1v1h-1zM273,92h1v15h-1zM272,92h1v1h-1zM274,102h1v1h-1zM276,94h1v23h-1zM275,102h1v1h-1zM277,110h1v1h-1zM281,101h1v11h-1zM280,105h1v1h-1zM282,108h1v1h-1zM284,102h1v18h-1zM283,108h1v1h-1zM285,115h1v1h-1zM287,113h1v13h-1zM286,115h1v1h-1zM288,122h1v1h-1zM322,56h1v11h-1zM321,58h1v1h-1zM323,64h1v1h-1zM327,58h1v16h-1zM326,61h1v1h-1zM328,69h1v1h-1zM330,69h1v10h-1zM329,69h1v1h-1zM331,76h1v1h-1zM332,73h1v8h-1zM331,76h1v1h-1zM333,78h1v1h-1zM335,73h1v14h-1zM334,78h1v1h-1zM336,82h1v1h-1zM340,78h1v11h-1zM339,82h1v1h-1zM341,85h1v1h-1zM348,71h1v13h-1zM347,71h1v1h-1zM349,80h1v1h-1zM351,79h1v10h-1zM350,80h1v1h-1zM352,85h1v1h-1zM354,81h1v12h-1zM353,85h1v1h-1zM355,89h1v1h-1zM372,65h1v14h-1zM371,66h1v1h-1zM373,74h1v1h-1zM375,75h1v16h-1zM374,75h1v1h-1zM376,86h1v1h-1zM378,78h1v16h-1zM377,86h1v1h-1zM379,89h1v1h-1zM383,83h1v10h-1zM382,83h1v1h-1zM384,90h1v1h-1zM391,81h1v8h-1zM390,81h1v1h-1zM392,86h1v1h-1zM394,80h1v12h-1zM393,86h1v1h-1zM395,88h1v1h-1zM405,73h1v10h-1zM404,73h1v1h-1zM406,80h1v1h-1zM413,71h1v6h-1zM412,72h1v1h-1zM414,75h1v1h-1zM421,63h1v13h-1zM420,65h1v1h-1zM422,72h1v1h-1zM437,54h1v7h-1zM436,56h1v1h-1zM438,58h1v1h-1zM439,56h1v8h-1zM438,58h1v1h-1zM440,61h1v1h-1zM455,42h1v8h-1zM454,42h1v1h-1zM456,47h1v1h-1zM461,34h1v8h-1zM460,37h1v1h-1zM462,40h1v1h-1zM463,37h1v14h-1zM462,40h1v1h-1zM464,47h1v1h-1zM469,44h1v11h-1zM468,46h1v1h-1zM470,51h1v1h-1zM474,49h1v11h-1zM473,51h1v1h-1zM475,56h1v1h-1zM479,58h1v14h-1zM478,58h1v1h-1zM480,68h1v1h-1zM482,68h1v4h-1zM481,68h1v1h-1zM483,70h1v1h-1zM485,68h1v6h-1zM484,70h1v1h-1zM486,71h1v1h-1zM490,64h1v6h-1zM489,64h1v1h-1zM491,68h1v1h-1zM498,61h1v13h-1zM497,61h1v1h-1zM499,70h1v1h-1zM506,54h1v5h-1zM505,56h1v1h-1zM507,57h1v1h-1zM509,55h1v6h-1zM508,57h1v1h-1zM510,59h1v1h-1zM512,57h1v8h-1zM511,59h1v1h-1zM513,62h1v1h-1zM517,54h1v7h-1zM516,57h1v1h-1zM518,59h1v1h-1zM520,57h1v5h-1zM519,59h1v1h-1zM521,60h1v1h-1zM533,43h1v9h-1zM532,43h1v1h-1zM534,49h1v1h-1zM536,48h1v5h-1zM535,49h1v1h-1zM537,51h1v1h-1zM538,49h1v8h-1zM537,51h1v1h-1zM539,54h1v1h-1zM546,48h1v11h-1zM545,48h1v1h-1zM547,56h1v1h-1zM549,50h1v11h-1zM548,56h1v1h-1zM550,57h1v1h-1z" fill="#dc143c" shape-rendering="crispEdges"/>
<path d="M621,215h1v53h-1zM619,265h2v1h-2zM622,218h2v1h-2zM626,168h1v65h-1zM624,219h2v1h-2zM627,180h2v1h-2zM646,171h1v96h-1zM644,254h2v1h-2zM647,176h2v1h-2zM661,135h1v83h-1zM659,216h2v1h-2zM662,152h2v1h-2zM666,82h1v83h-1zM664,140h2v1h-2zM667,106h2v1h-2zM671,50h1v64h-1zM669,101h2v1h-2zM672,73h2v1h-2zM676,34h1v57h-1zM674,70h2v1h-2zM677,58h2v1h-2zM696,110h1v37h-1zM694,140h2v1h-2zM697,122h2v1h-2zM701,68h1v63h-1zM699,126h2v1h-2zM702,111h2v1h-2z" fill="#000080" shape-rendering="crispEdges"/>
<path d="M616,232h1v122h-1zM614,235h2v1h-2zM617,273h2v1h-2zM631,160h1v39h-1zM629,173h2v1h-2zM632,192h2v1h-2zM636,172h1v50h-1zM634,193h2v1h-2zM637,219h2v1h-2zM641,200h1v72h-1zM639,216h2v1h-2zM642,253h2v1h-2zM651,162h1v53h-1zM649,176h2v1h-2zM652,207h2v1h-2zM656,188h1v32h-1zM654,214h2v1h-2zM657,215h2v1h-2zM681,49h1v82h-1zM679,65h2v1h-2zM682,106h2v1h-2zM686,105h1v35h-1zM684,107h2v1h-2zM687,111h2v1h-2zM691,101h1v75h-1zM689,115h2v1h-2zM692,136h2v1h-2zM706,112h1v87h-1zM704,115h2v1h-2zM707,132h2v1h-2zM711,118h1v101h-1zM709,127h2v1h-2zM712,203h2v1h-2z" fill="#dc143c" shape-rendering="crispEdges"/>
<line x1="26.4" y1="321.8" x2="81.2" y2="258.6" stroke="#22c800" stroke-width="2.1" stroke-linecap="round"/>
<line x1="199.4" y1="219" x2="298.5" y2="117.5" stroke="#22c800" stroke-width="2.1" stroke-linecap="round"/>
<line x1="380.6" y1="95" x2="431.25" y2="72.5" stroke="#22c800" stroke-width="2.1" stroke-linecap="round"/>
<line x1="482.5" y1="74.9" x2="528" y2="60.7" stroke="#22c800" stroke-width="2.1" stroke-linecap="round"/>
<line x1="78.8" y1="258.4" x2="102.9" y2="188.4" stroke="#33eeff" stroke-width="2.2" stroke-linecap="round"/>
<line x1="291.25" y1="123" x2="326.7" y2="60.5" stroke="#33eeff" stroke-width="2.2" stroke-linecap="round"/>
<line x1="434.75" y1="69.4" x2="466.25" y2="41.9" stroke="#33eeff" stroke-width="2.2" stroke-linecap="round"/>
<line x1="520.8" y1="62.9" x2="530.6" y2="48.6" stroke="#33eeff" stroke-width="2.2" stroke-linecap="round"/>
<line x1="102.5" y1="176.5" x2="153.20" y2="193.30" stroke="#f00000" stroke-width="2.3" stroke-linecap="butt"/>
<polygon points="164.8,197.5 155.3,188.1 151.1,198.5" fill="#f00000"/>
<line x1="322.5" y1="54.8" x2="377.15" y2="64.85" stroke="#f00000" stroke-width="2.3" stroke-linecap="butt"/>
<polygon points="389.2,67.4 378.1,58.9 376.2,70.8" fill="#f00000"/>
<line x1="463.75" y1="30.5" x2="482.50" y2="51.45" stroke="#f00000" stroke-width="2.3" stroke-linecap="butt"/>
<polygon points="491.25,60.75 478.1,54.9 486.9,48" fill="#f00000"/>
<line x1="530.4" y1="38.4" x2="549.17" y2="43.90" stroke="#f00000" stroke-width="2.3" stroke-linecap="butt"/>
<polygon points="561,47.6 551.25,38 547.1,49.8" fill="#f00000"/>
<line x1="22.7" y1="335.5" x2="532.30" y2="65.10" stroke="#0010f5" stroke-width="4.5" stroke-linecap="butt"/>
<polygon points="545,59.6 529,59.3 535.6,70.9" fill="#0010f5"/>
<path d="M510.7,323 L512.8,323.3 L512.8,337.1 L510.7,337.1 Z" fill="#5ba3dc"/>
<path d="M514.25,317.1 L517.8,318 L517.8,337.1 L514.25,337.1 Z" fill="#3a78c4"/>
<path d="M519.3,312.1 L535.7,318 L535.7,336.8 L519.3,336.8 Z M522.6,317.1 L534.2,320.6 L534.2,333.8 L522.6,333.8 Z" fill="#213f7e" fill-rule="evenodd"/>
<path d="M523.2,332.6 L525.1,326.4 L527.1,329.3 L531,323.8" stroke="#213f7e" stroke-width="1.4" fill="none"/>
<path d="M529.6,322.6 L532.3,321.8 L531.9,324.8 Z" fill="#213f7e"/>
<text x="485" y="350.8" font-family='"Liberation Sans", sans-serif' font-size="12.5" font-weight="bold" fill="#213f7e" text-anchor="start" textLength="33.5" lengthAdjust="spacingAndGlyphs" >CAPP</text>
<text x="518.8" y="350.8" font-family='"Liberation Sans", sans-serif' font-size="12.5" font-weight="normal" fill="#2d4d8c" text-anchor="start" textLength="41.2" lengthAdjust="spacingAndGlyphs" >THESIS</text>
</svg>
</body></html>
